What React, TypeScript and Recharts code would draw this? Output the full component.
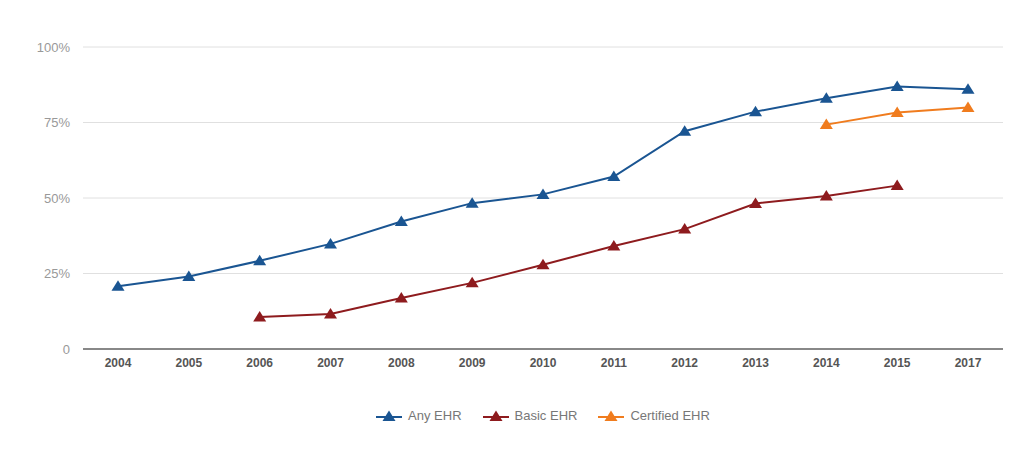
import React from "react";
import { CartesianGrid, Legend, Line, LineChart, XAxis, YAxis } from "recharts";

const years = ["2004", "2005", "2006", "2007", "2008", "2009", "2010", "2011", "2012", "2013", "2014", "2015", "2017"];
const anyEhr = [20.8, 24, 29.2, 34.8, 42.2, 48.3, 51.2, 57.1, 72.1, 78.6, 83, 86.9, 86];
const basicEhr = [null, null, 10.6, 11.6, 16.9, 21.9, 27.9, 34.1, 39.7, 48.2, 50.7, 54.1, null];
const certifiedEhr = [null, null, null, null, null, null, null, null, null, null, 74.3, 78.3, 80];
const yTicks = [0, 25, 50, 75, 100];

const series = [
  { key: "any", name: "Any EHR", color: "#1a5592" },
  { key: "basic", name: "Basic EHR", color: "#8e1b1e" },
  { key: "certified", name: "Certified EHR", color: "#f07c1e" },
];

const data = years.map((year, i) => ({
  year,
  any: anyEhr[i],
  basic: basicEhr[i],
  certified: certifiedEhr[i],
}));

const FONT = "Arial, 'Liberation Sans', sans-serif";

function triangle(cx: number, cy: number) {
  return `M${cx},${cy - 6}L${cx + 6.5},${cy + 4.5}L${cx - 6.5},${cy + 4.5}Z`;
}

function makeDot(color: string) {
  return (props: any) => {
    const { cx, cy, index, value } = props;
    if (cy == null || value == null || Number.isNaN(cy)) return <g key={`d-${index}`} />;
    return <path key={`d-${index}`} d={triangle(cx, cy)} fill={color} stroke="none" />;
  };
}

function ChartLegend() {
  return (
    <div
      style={{
        display: "flex",
        justifyContent: "center",
        gap: 21,
        fontFamily: FONT,
        fontSize: 13,
        color: "#777",
        paddingLeft: 83,
        paddingRight: 21,
      }}
    >
      {series.map((s) => (
        <div key={s.key} style={{ display: "flex", alignItems: "center", gap: 6 }}>
          <svg width={26} height={12}>
            <line x1={0} y1={7} x2={26} y2={7} stroke={s.color} strokeWidth={2} />
            <path d={triangle(13, 6.5)} fill={s.color} />
          </svg>
          <span>{s.name}</span>
        </div>
      ))}
    </div>
  );
}

export default function App() {
  return (
    <div style={{ margin: -8, width: 1024, height: 465, background: "#fff" }}>
      <LineChart width={1024} height={465} data={data} margin={{ top: 47, right: 21, left: 0, bottom: 0 }}>
        <CartesianGrid horizontal vertical={false} stroke="#e0e0e0" />
        <XAxis
          dataKey="year"
          height={101}
          padding={{ left: 35, right: 35 }}
          axisLine={{ stroke: "#666", strokeWidth: 1.5 }}
          tickLine={false}
          tickSize={0}
          tickMargin={9}
          interval={0}
          tick={{ fill: "#555", fontSize: 12, fontWeight: "bold", fontFamily: FONT }}
        />
        <YAxis
          width={83}
          domain={[0, 100]}
          ticks={yTicks}
          axisLine={false}
          tickLine={false}
          tickSize={0}
          tickMargin={13}
          tickFormatter={(v: number) => (v === 0 ? "0" : `${v}%`)}
          tick={{ fill: "#999", fontSize: 13, fontFamily: FONT }}
        />
        <Legend content={<ChartLegend />} wrapperStyle={{ top: 408, left: 0, width: 1024 }} />
        {series.map((s) => (
          <Line
            key={s.key}
            dataKey={s.key}
            name={s.name}
            stroke={s.color}
            strokeWidth={2}
            dot={makeDot(s.color)}
            activeDot={false}
            connectNulls={false}
            isAnimationActive={false}
          />
        ))}
      </LineChart>
    </div>
  );
}
